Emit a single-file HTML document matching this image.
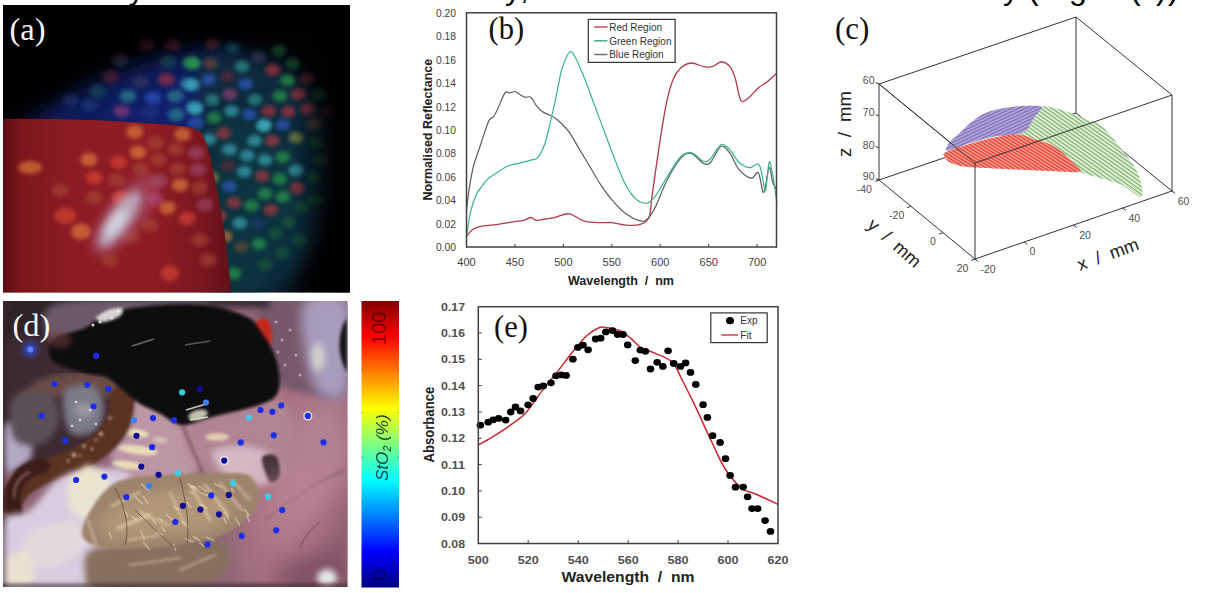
<!DOCTYPE html>
<html><head><meta charset="utf-8">
<style>
html,body{margin:0;padding:0;background:#fff;width:1207px;height:593px;overflow:hidden}
svg{display:block}
text{font-family:"Liberation Sans",sans-serif}
text.serif{font-family:"Liberation Serif",serif}
</style></head><body>
<svg width="1207" height="593" viewBox="0 0 1207 593">
<defs>
<linearGradient id="jet" x1="0" y1="0" x2="0" y2="1">
<stop offset="0" stop-color="#800000"/>
<stop offset="0.125" stop-color="#ff0000"/>
<stop offset="0.375" stop-color="#ffff00"/>
<stop offset="0.625" stop-color="#00ffff"/>
<stop offset="0.875" stop-color="#0000ff"/>
<stop offset="1" stop-color="#000080"/>
</linearGradient>
</defs>

<defs>
<clipPath id="clipA"><rect x="3" y="5" width="347" height="287.5"/></clipPath>
<clipPath id="clipRed"><path d="M-5,119 C40,118 110,120 150,123.5 C175,125 192,126 201,131.9 C206,140 209,150 211,160 C214,175 217,190 220,205 C224,225 228,255 231,292 L231,300 L-5,300 Z"/></clipPath>
<filter id="blurA" x="-50%" y="-50%" width="200%" height="200%"><feGaussianBlur stdDeviation="2.1"/></filter>
<filter id="blurBig" x="-50%" y="-50%" width="200%" height="200%"><feGaussianBlur stdDeviation="18"/></filter>
<filter id="blurMed" x="-50%" y="-50%" width="200%" height="200%"><feGaussianBlur stdDeviation="10"/></filter>
<filter id="blurS" x="-50%" y="-50%" width="200%" height="200%"><feGaussianBlur stdDeviation="1"/></filter>
<filter id="blurSpec" x="-50%" y="-50%" width="200%" height="200%"><feGaussianBlur stdDeviation="4"/></filter>
<linearGradient id="aRed" x1="3" y1="0" x2="232" y2="0" gradientUnits="userSpaceOnUse">
<stop offset="0" stop-color="#5a0e14"/>
<stop offset="0.08" stop-color="#7c161c"/>
<stop offset="0.3" stop-color="#8c1c24"/>
<stop offset="0.65" stop-color="#8e1c24"/>
<stop offset="0.88" stop-color="#781620"/>
<stop offset="1" stop-color="#5e1018"/>
</linearGradient>
<linearGradient id="aRightDark" x1="0" y1="0" x2="1" y2="0">
<stop offset="0" stop-color="#000" stop-opacity="0"/>
<stop offset="0.6" stop-color="#000" stop-opacity="0.75"/>
<stop offset="1" stop-color="#000" stop-opacity="0.98"/>
</linearGradient>
</defs>
<g clip-path="url(#clipA)">
<rect x="3" y="5" width="347" height="287.5" fill="#030306"/>
<path d="M20,130 C60,95 120,70 170,55 C210,45 240,50 250,80 L245,135 L20,135 Z" fill="#101a5c" filter="url(#blurMed)"/>
<path d="M90,128 C130,100 170,85 205,80 C225,85 225,110 220,135 L90,135 Z" fill="#18247a" opacity="0.6" filter="url(#blurMed)"/>
<path d="M195,60 C240,40 290,60 320,100 C340,150 330,230 300,300 L215,300 L200,130 Z" fill="#0c2a3c" filter="url(#blurMed)"/>
<path d="M205,120 C240,110 280,130 300,160 C310,200 290,250 250,300 L220,300 Z" fill="#0e3440" opacity="0.9" filter="url(#blurMed)"/>
<ellipse cx="146.7" cy="44.1" rx="8.5" ry="6.5" fill="#702838" opacity="0.5" filter="url(#blurA)"/>
<ellipse cx="172.6" cy="45.0" rx="8.5" ry="6.5" fill="#702838" opacity="0.5" filter="url(#blurA)"/>
<ellipse cx="168.0" cy="61.7" rx="8.5" ry="6.5" fill="#1f5a60" opacity="0.5" filter="url(#blurA)"/>
<ellipse cx="190.3" cy="62.7" rx="8.5" ry="6.5" fill="#30b050" opacity="0.5" filter="url(#blurA)"/>
<ellipse cx="110.5" cy="76.6" rx="8.5" ry="6.5" fill="#702838" opacity="0.5" filter="url(#blurA)"/>
<ellipse cx="140.2" cy="82.2" rx="8.5" ry="6.5" fill="#404060" opacity="0.5" filter="url(#blurA)"/>
<ellipse cx="166.2" cy="79.4" rx="8.5" ry="6.5" fill="#d03840" opacity="0.5" filter="url(#blurA)"/>
<ellipse cx="188.4" cy="84.0" rx="8.5" ry="6.5" fill="#48c0d0" opacity="0.5" filter="url(#blurA)"/>
<ellipse cx="97.5" cy="91.4" rx="8.5" ry="6.5" fill="#1f5a60" opacity="0.5" filter="url(#blurA)"/>
<ellipse cx="128.1" cy="96.1" rx="8.5" ry="6.5" fill="#38a8a0" opacity="0.5" filter="url(#blurA)"/>
<ellipse cx="153.2" cy="97.9" rx="8.5" ry="6.5" fill="#3868e0" opacity="0.5" filter="url(#blurA)"/>
<ellipse cx="175.4" cy="96.1" rx="8.5" ry="6.5" fill="#38a8a0" opacity="0.5" filter="url(#blurA)"/>
<ellipse cx="194.0" cy="107.2" rx="8.5" ry="6.5" fill="#48c0d0" opacity="0.5" filter="url(#blurA)"/>
<ellipse cx="90.1" cy="105.3" rx="8.5" ry="6.5" fill="#203a80" opacity="0.5" filter="url(#blurA)"/>
<ellipse cx="121.6" cy="110.9" rx="8.5" ry="6.5" fill="#b04880" opacity="0.5" filter="url(#blurA)"/>
<ellipse cx="176.4" cy="114.6" rx="8.5" ry="6.5" fill="#38a8a0" opacity="0.5" filter="url(#blurA)"/>
<ellipse cx="195.8" cy="123.0" rx="8.5" ry="6.5" fill="#3868e0" opacity="0.5" filter="url(#blurA)"/>
<ellipse cx="150.0" cy="112.0" rx="8.5" ry="6.5" fill="#203a80" opacity="0.5" filter="url(#blurA)"/>
<ellipse cx="70.0" cy="100.0" rx="8.5" ry="6.5" fill="#203a80" opacity="0.5" filter="url(#blurA)"/>
<ellipse cx="120.0" cy="60.0" rx="8.5" ry="6.5" fill="#404060" opacity="0.5" filter="url(#blurA)"/>
<ellipse cx="212.3" cy="44.1" rx="7.5" ry="6" fill="#702838" opacity="0.55" filter="url(#blurA)"/>
<ellipse cx="232.7" cy="47.8" rx="7.5" ry="6" fill="#1f5a60" opacity="0.55" filter="url(#blurA)"/>
<ellipse cx="279.0" cy="50.6" rx="7.5" ry="6" fill="#1f6038" opacity="0.55" filter="url(#blurA)"/>
<ellipse cx="193.7" cy="63.6" rx="7.5" ry="6" fill="#30b050" opacity="0.55" filter="url(#blurA)"/>
<ellipse cx="210.4" cy="63.6" rx="7.5" ry="6" fill="#805038" opacity="0.55" filter="url(#blurA)"/>
<ellipse cx="242.0" cy="66.4" rx="7.5" ry="6" fill="#38a8a0" opacity="0.55" filter="url(#blurA)"/>
<ellipse cx="258.6" cy="57.1" rx="7.5" ry="6" fill="#404060" opacity="0.55" filter="url(#blurA)"/>
<ellipse cx="272.6" cy="70.1" rx="7.5" ry="6" fill="#d03840" opacity="0.55" filter="url(#blurA)"/>
<ellipse cx="293.0" cy="63.6" rx="7.5" ry="6" fill="#1f6038" opacity="0.55" filter="url(#blurA)"/>
<ellipse cx="208.6" cy="79.4" rx="7.5" ry="6" fill="#3868e0" opacity="0.55" filter="url(#blurA)"/>
<ellipse cx="227.1" cy="76.6" rx="7.5" ry="6" fill="#702838" opacity="0.55" filter="url(#blurA)"/>
<ellipse cx="245.7" cy="84.0" rx="7.5" ry="6" fill="#3868e0" opacity="0.55" filter="url(#blurA)"/>
<ellipse cx="287.4" cy="80.3" rx="7.5" ry="6" fill="#30b050" opacity="0.55" filter="url(#blurA)"/>
<ellipse cx="306.9" cy="78.4" rx="7.5" ry="6" fill="#702838" opacity="0.55" filter="url(#blurA)"/>
<ellipse cx="192.8" cy="84.9" rx="7.5" ry="6" fill="#48c0d0" opacity="0.55" filter="url(#blurA)"/>
<ellipse cx="212.3" cy="99.8" rx="7.5" ry="6" fill="#38a8a0" opacity="0.55" filter="url(#blurA)"/>
<ellipse cx="229.9" cy="94.2" rx="7.5" ry="6" fill="#b04880" opacity="0.55" filter="url(#blurA)"/>
<ellipse cx="254.9" cy="99.8" rx="7.5" ry="6" fill="#38a8a0" opacity="0.55" filter="url(#blurA)"/>
<ellipse cx="280.0" cy="96.1" rx="7.5" ry="6" fill="#30b050" opacity="0.55" filter="url(#blurA)"/>
<ellipse cx="298.5" cy="94.2" rx="7.5" ry="6" fill="#d03840" opacity="0.55" filter="url(#blurA)"/>
<ellipse cx="319.9" cy="94.2" rx="7.5" ry="6" fill="#1f6038" opacity="0.55" filter="url(#blurA)"/>
<ellipse cx="195.6" cy="109.0" rx="7.5" ry="6" fill="#48c0d0" opacity="0.55" filter="url(#blurA)"/>
<ellipse cx="214.1" cy="117.4" rx="7.5" ry="6" fill="#30b050" opacity="0.55" filter="url(#blurA)"/>
<ellipse cx="231.7" cy="110.9" rx="7.5" ry="6" fill="#48c0d0" opacity="0.55" filter="url(#blurA)"/>
<ellipse cx="249.4" cy="114.6" rx="7.5" ry="6" fill="#3868e0" opacity="0.55" filter="url(#blurA)"/>
<ellipse cx="268.8" cy="110.9" rx="7.5" ry="6" fill="#d03840" opacity="0.55" filter="url(#blurA)"/>
<ellipse cx="288.3" cy="111.8" rx="7.5" ry="6" fill="#d03840" opacity="0.55" filter="url(#blurA)"/>
<ellipse cx="307.8" cy="109.0" rx="7.5" ry="6" fill="#d03840" opacity="0.55" filter="url(#blurA)"/>
<ellipse cx="328.2" cy="111.8" rx="7.5" ry="6" fill="#702838" opacity="0.55" filter="url(#blurA)"/>
<ellipse cx="264.2" cy="124.8" rx="7.5" ry="6" fill="#48c0d0" opacity="0.55" filter="url(#blurA)"/>
<ellipse cx="282.8" cy="124.8" rx="7.5" ry="6" fill="#3868e0" opacity="0.55" filter="url(#blurA)"/>
<ellipse cx="314.3" cy="123.9" rx="7.5" ry="6" fill="#805038" opacity="0.55" filter="url(#blurA)"/>
<ellipse cx="223.6" cy="133.3" rx="7.5" ry="6" fill="#d03840" opacity="0.55" filter="url(#blurA)"/>
<ellipse cx="263.5" cy="125.9" rx="7.5" ry="6" fill="#48c0d0" opacity="0.55" filter="url(#blurA)"/>
<ellipse cx="208.9" cy="139.2" rx="7.5" ry="6" fill="#48c0d0" opacity="0.55" filter="url(#blurA)"/>
<ellipse cx="254.6" cy="140.7" rx="7.5" ry="6" fill="#48c0d0" opacity="0.55" filter="url(#blurA)"/>
<ellipse cx="272.3" cy="140.7" rx="7.5" ry="6" fill="#d03840" opacity="0.55" filter="url(#blurA)"/>
<ellipse cx="296.0" cy="137.7" rx="7.5" ry="6" fill="#a0a040" opacity="0.55" filter="url(#blurA)"/>
<ellipse cx="316.6" cy="142.1" rx="7.5" ry="6" fill="#1f6038" opacity="0.55" filter="url(#blurA)"/>
<ellipse cx="229.5" cy="149.5" rx="7.5" ry="6" fill="#48c0d0" opacity="0.55" filter="url(#blurA)"/>
<ellipse cx="247.2" cy="155.4" rx="7.5" ry="6" fill="#48c0d0" opacity="0.55" filter="url(#blurA)"/>
<ellipse cx="265.0" cy="159.9" rx="7.5" ry="6" fill="#48c0d0" opacity="0.55" filter="url(#blurA)"/>
<ellipse cx="282.7" cy="156.9" rx="7.5" ry="6" fill="#30b050" opacity="0.55" filter="url(#blurA)"/>
<ellipse cx="321.0" cy="159.9" rx="7.5" ry="6" fill="#1f6038" opacity="0.55" filter="url(#blurA)"/>
<ellipse cx="228.0" cy="165.8" rx="7.5" ry="6" fill="#702838" opacity="0.55" filter="url(#blurA)"/>
<ellipse cx="244.3" cy="171.7" rx="7.5" ry="6" fill="#48c0d0" opacity="0.55" filter="url(#blurA)"/>
<ellipse cx="262.0" cy="176.1" rx="7.5" ry="6" fill="#d03840" opacity="0.55" filter="url(#blurA)"/>
<ellipse cx="279.7" cy="179.0" rx="7.5" ry="6" fill="#30b050" opacity="0.55" filter="url(#blurA)"/>
<ellipse cx="296.0" cy="170.2" rx="7.5" ry="6" fill="#48c0d0" opacity="0.55" filter="url(#blurA)"/>
<ellipse cx="313.7" cy="177.6" rx="7.5" ry="6" fill="#1f6038" opacity="0.55" filter="url(#blurA)"/>
<ellipse cx="211.8" cy="177.6" rx="7.5" ry="6" fill="#a0a040" opacity="0.55" filter="url(#blurA)"/>
<ellipse cx="229.5" cy="186.4" rx="7.5" ry="6" fill="#3868e0" opacity="0.55" filter="url(#blurA)"/>
<ellipse cx="265.0" cy="193.8" rx="7.5" ry="6" fill="#30b050" opacity="0.55" filter="url(#blurA)"/>
<ellipse cx="282.7" cy="196.8" rx="7.5" ry="6" fill="#30b050" opacity="0.55" filter="url(#blurA)"/>
<ellipse cx="297.4" cy="187.9" rx="7.5" ry="6" fill="#d03840" opacity="0.55" filter="url(#blurA)"/>
<ellipse cx="234.0" cy="202.7" rx="7.5" ry="6" fill="#d03840" opacity="0.55" filter="url(#blurA)"/>
<ellipse cx="251.7" cy="205.6" rx="7.5" ry="6" fill="#30b050" opacity="0.55" filter="url(#blurA)"/>
<ellipse cx="270.9" cy="210.0" rx="7.5" ry="6" fill="#d03840" opacity="0.55" filter="url(#blurA)"/>
<ellipse cx="301.9" cy="207.1" rx="7.5" ry="6" fill="#1f6038" opacity="0.55" filter="url(#blurA)"/>
<ellipse cx="219.2" cy="216.0" rx="7.5" ry="6" fill="#e04838" opacity="0.55" filter="url(#blurA)"/>
<ellipse cx="239.9" cy="223.3" rx="7.5" ry="6" fill="#48c0d0" opacity="0.55" filter="url(#blurA)"/>
<ellipse cx="257.6" cy="223.3" rx="7.5" ry="6" fill="#203a80" opacity="0.55" filter="url(#blurA)"/>
<ellipse cx="288.6" cy="221.9" rx="7.5" ry="6" fill="#1f6038" opacity="0.55" filter="url(#blurA)"/>
<ellipse cx="225.1" cy="236.6" rx="7.5" ry="6" fill="#e88840" opacity="0.55" filter="url(#blurA)"/>
<ellipse cx="241.3" cy="247.0" rx="7.5" ry="6" fill="#805038" opacity="0.55" filter="url(#blurA)"/>
<ellipse cx="259.0" cy="244.0" rx="7.5" ry="6" fill="#30b050" opacity="0.55" filter="url(#blurA)"/>
<ellipse cx="275.3" cy="233.7" rx="7.5" ry="6" fill="#1f6038" opacity="0.55" filter="url(#blurA)"/>
<ellipse cx="282.7" cy="252.9" rx="7.5" ry="6" fill="#1f6038" opacity="0.55" filter="url(#blurA)"/>
<ellipse cx="265.0" cy="264.7" rx="7.5" ry="6" fill="#1f6038" opacity="0.55" filter="url(#blurA)"/>
<ellipse cx="234.0" cy="273.5" rx="7.5" ry="6" fill="#30b050" opacity="0.55" filter="url(#blurA)"/>
<ellipse cx="300.0" cy="240.0" rx="7.5" ry="6" fill="#1f6038" opacity="0.55" filter="url(#blurA)"/>
<ellipse cx="315.0" cy="200.0" rx="7.5" ry="6" fill="#1f6038" opacity="0.55" filter="url(#blurA)"/>
<rect x="292" y="0" width="63" height="300" fill="url(#aRightDark)"/>
<path d="M-20,-20 L360,-20 L360,30 L200,35 L120,50 L40,95 L-20,120 Z" fill="#030306" opacity="0.9" filter="url(#blurMed)"/>
<path d="M310,260 L360,210 L360,300 L275,300 Z" fill="#020204" opacity="0.8" filter="url(#blurMed)"/>
<g clip-path="url(#clipRed)">
<rect x="0" y="110" width="240" height="190" fill="url(#aRed)"/>
<ellipse cx="134.6" cy="131.9" rx="8.5" ry="6.8" fill="#e88840" opacity="0.6" filter="url(#blurA)"/>
<ellipse cx="182.6" cy="134.5" rx="8.5" ry="6.8" fill="#e88840" opacity="0.6" filter="url(#blurA)"/>
<ellipse cx="155.6" cy="142.9" rx="8.5" ry="6.8" fill="#a84838" opacity="0.6" filter="url(#blurA)"/>
<ellipse cx="137.9" cy="152.2" rx="8.5" ry="6.8" fill="#e88840" opacity="0.6" filter="url(#blurA)"/>
<ellipse cx="175.9" cy="148.8" rx="8.5" ry="6.8" fill="#a84838" opacity="0.6" filter="url(#blurA)"/>
<ellipse cx="196.1" cy="153.0" rx="8.5" ry="6.8" fill="#a05070" opacity="0.6" filter="url(#blurA)"/>
<ellipse cx="118.5" cy="162.3" rx="8.5" ry="6.8" fill="#e04838" opacity="0.6" filter="url(#blurA)"/>
<ellipse cx="158.2" cy="159.7" rx="8.5" ry="6.8" fill="#a84838" opacity="0.6" filter="url(#blurA)"/>
<ellipse cx="140.5" cy="169.0" rx="8.5" ry="6.8" fill="#a84838" opacity="0.6" filter="url(#blurA)"/>
<ellipse cx="177.6" cy="169.0" rx="8.5" ry="6.8" fill="#a84838" opacity="0.6" filter="url(#blurA)"/>
<ellipse cx="197.8" cy="169.9" rx="8.5" ry="6.8" fill="#a05070" opacity="0.6" filter="url(#blurA)"/>
<ellipse cx="116.9" cy="180.0" rx="8.5" ry="6.8" fill="#a84838" opacity="0.6" filter="url(#blurA)"/>
<ellipse cx="159.9" cy="180.8" rx="8.5" ry="6.8" fill="#a05070" opacity="0.6" filter="url(#blurA)"/>
<ellipse cx="180.1" cy="185.0" rx="8.5" ry="6.8" fill="#e88840" opacity="0.6" filter="url(#blurA)"/>
<ellipse cx="199.5" cy="187.6" rx="8.5" ry="6.8" fill="#a84838" opacity="0.6" filter="url(#blurA)"/>
<ellipse cx="121.1" cy="197.7" rx="8.5" ry="6.8" fill="#e04838" opacity="0.6" filter="url(#blurA)"/>
<ellipse cx="154.8" cy="199.4" rx="8.5" ry="6.8" fill="#b04880" opacity="0.6" filter="url(#blurA)"/>
<ellipse cx="167.5" cy="207.8" rx="8.5" ry="6.8" fill="#e88840" opacity="0.6" filter="url(#blurA)"/>
<ellipse cx="30.0" cy="167.5" rx="12" ry="6.5" fill="#e88840" opacity="0.6" filter="url(#blurA)"/>
<ellipse cx="88.9" cy="159.6" rx="8.5" ry="6.8" fill="#e88840" opacity="0.6" filter="url(#blurA)"/>
<ellipse cx="94.1" cy="177.9" rx="8.5" ry="6.8" fill="#e04838" opacity="0.6" filter="url(#blurA)"/>
<ellipse cx="65.4" cy="215.8" rx="11" ry="8.5" fill="#e04838" opacity="0.6" filter="url(#blurA)"/>
<ellipse cx="120.3" cy="198.8" rx="8.5" ry="6.8" fill="#e04838" opacity="0.6" filter="url(#blurA)"/>
<ellipse cx="186.9" cy="218.4" rx="8.5" ry="6.8" fill="#e04838" opacity="0.6" filter="url(#blurA)"/>
<ellipse cx="81.0" cy="231.5" rx="10" ry="8" fill="#e88840" opacity="0.6" filter="url(#blurA)"/>
<ellipse cx="130.7" cy="236.7" rx="8.5" ry="6.8" fill="#a84838" opacity="0.6" filter="url(#blurA)"/>
<ellipse cx="170.0" cy="273.3" rx="9" ry="8" fill="#e04838" opacity="0.6" filter="url(#blurA)"/>
<ellipse cx="94.0" cy="197.5" rx="8.5" ry="6.8" fill="#a84838" opacity="0.6" filter="url(#blurA)"/>
<ellipse cx="150.0" cy="225.0" rx="8.5" ry="6.8" fill="#a84838" opacity="0.6" filter="url(#blurA)"/>
<ellipse cx="200.0" cy="240.0" rx="8.5" ry="6.8" fill="#a84838" opacity="0.6" filter="url(#blurA)"/>
<ellipse cx="60.0" cy="190.0" rx="8.5" ry="6.8" fill="#a84838" opacity="0.6" filter="url(#blurA)"/>
<ellipse cx="110.0" cy="260.0" rx="8.5" ry="6.8" fill="#a84838" opacity="0.6" filter="url(#blurA)"/>
<ellipse cx="205.0" cy="205.0" rx="8.5" ry="6.8" fill="#a05070" opacity="0.6" filter="url(#blurA)"/>
<ellipse cx="208.0" cy="260.0" rx="8.5" ry="6.8" fill="#a84838" opacity="0.6" filter="url(#blurA)"/>
<ellipse cx="125" cy="215" rx="50" ry="20" fill="#b05878" opacity="0.5" transform="rotate(-52 125 215)" filter="url(#blurSpec)"/>
<ellipse cx="120" cy="219" rx="34" ry="11" fill="#c8d4ec" opacity="0.7" transform="rotate(-55 120 219)" filter="url(#blurSpec)"/>
<ellipse cx="116" cy="223" rx="16" ry="6" fill="#e8f8f0" opacity="0.6" transform="rotate(-55 116 223)" filter="url(#blurSpec)"/>
</g>
</g>
<text x="9.5" y="39.5" font-size="32.5" class="serif" fill="#f4f4f4">(a)</text>
<defs>
<clipPath id="clipD"><rect x="3" y="301" width="344.5" height="286"/></clipPath>
<filter id="dB1" x="-50%" y="-50%" width="200%" height="200%"><feGaussianBlur stdDeviation="1.5"/></filter>
<filter id="dB3" x="-50%" y="-50%" width="200%" height="200%"><feGaussianBlur stdDeviation="3"/></filter>
<filter id="dB6" x="-50%" y="-50%" width="200%" height="200%"><feGaussianBlur stdDeviation="6"/></filter>
<filter id="dB12" x="-50%" y="-50%" width="200%" height="200%"><feGaussianBlur stdDeviation="12"/></filter>
<filter id="dDot" x="-50%" y="-50%" width="200%" height="200%"><feGaussianBlur stdDeviation="0.7"/></filter>
</defs>
<g clip-path="url(#clipD)">
<rect x="3" y="301" width="344.5" height="286" fill="#8e6676"/>
<path d="M250.0,385.0 C267.8,370.0 330.8,346.3 347.0,380.0 C363.2,413.7 363.2,552.5 347.0,587.0 C330.8,621.5 267.8,606.5 250.0,587.0 C232.2,567.5 240.0,503.7 240.0,470.0 C240.0,436.3 232.2,400.0 250.0,385.0Z" fill="#a87282" filter="url(#dB12)"/>
<path d="M290.0,420.0 C300.0,410.0 330.8,396.7 340.0,410.0 C349.2,423.3 351.7,481.7 345.0,500.0 C338.3,518.3 310.8,525.0 300.0,520.0 C289.2,515.0 281.7,486.7 280.0,470.0 C278.3,453.3 280.0,430.0 290.0,420.0Z" fill="#b88898" opacity="0.7" filter="url(#dB12)"/>
<path d="M300,540 L350,480 L350,590 L270,590 Z" fill="#7c4c60" filter="url(#dB12)"/>
<path d="M265,520 C290,500 320,480 345,470" stroke="#6a3a4a" stroke-width="2" fill="none" opacity="0.5" filter="url(#dB1)"/>
<path d="M262.0,301.0 C275.2,294.5 332.8,285.8 347.0,301.0 C361.2,316.2 354.8,376.8 347.0,392.0 C339.2,407.2 312.0,394.0 300.0,392.0 C288.0,390.0 280.3,388.7 275.0,380.0 C269.7,371.3 270.2,353.2 268.0,340.0 C265.8,326.8 248.8,307.5 262.0,301.0Z" fill="#76586a" filter="url(#dB3)"/>
<path d="M305.0,301.0 C312.0,292.8 340.0,286.2 347.0,301.0 C354.0,315.8 351.8,374.8 347.0,390.0 C342.2,405.2 325.0,398.7 318.0,392.0 C311.0,385.3 307.2,365.2 305.0,350.0 C302.8,334.8 298.0,309.2 305.0,301.0Z" fill="#a89cbc" filter="url(#dB6)"/>
<ellipse cx="318" cy="357" rx="7" ry="14" fill="#d8d8d0" opacity="0.85" filter="url(#dB3)"/>
<path d="M347,318 C338,330 336,355 347,372" fill="#181418" filter="url(#dB1)"/>
<circle cx="276" cy="322" r="1.5" fill="#e0d0e0" opacity="0.6" filter="url(#dDot)"/>
<circle cx="282" cy="340" r="1.5" fill="#e0d0e0" opacity="0.6" filter="url(#dDot)"/>
<circle cx="290" cy="330" r="1.5" fill="#e0d0e0" opacity="0.6" filter="url(#dDot)"/>
<circle cx="296" cy="355" r="1.5" fill="#e0d0e0" opacity="0.6" filter="url(#dDot)"/>
<circle cx="285" cy="365" r="1.5" fill="#e0d0e0" opacity="0.6" filter="url(#dDot)"/>
<circle cx="300" cy="375" r="1.5" fill="#e0d0e0" opacity="0.6" filter="url(#dDot)"/>
<circle cx="278" cy="352" r="1.5" fill="#e0d0e0" opacity="0.6" filter="url(#dDot)"/>
<rect x="0" y="296" width="270" height="12" fill="#3e2e38" filter="url(#dB3)"/>
<path d="M3.0,301.0 C15.8,289.5 68.8,295.3 80.0,301.0 C91.2,306.7 76.7,324.3 70.0,335.0 C63.3,345.7 51.2,359.2 40.0,365.0 C28.8,370.8 9.2,380.7 3.0,370.0 C-3.2,359.3 -9.8,312.5 3.0,301.0Z" fill="#2e2428" filter="url(#dB6)"/>
<path d="M60.0,303.0 C81.7,298.2 150.0,300.5 175.0,301.0 C200.0,301.5 212.5,302.5 210.0,306.0 C207.5,309.5 178.3,316.3 160.0,322.0 C141.7,327.7 116.7,335.7 100.0,340.0 C83.3,344.3 69.2,349.7 60.0,348.0 C50.8,346.3 45.0,337.5 45.0,330.0 C45.0,322.5 38.3,307.8 60.0,303.0Z" fill="#6c5a6a" filter="url(#dB3)"/>
<path d="M256.0,322.0 C258.0,319.0 265.3,317.0 268.0,320.0 C270.7,323.0 272.5,335.5 272.0,340.0 C271.5,344.5 267.7,347.3 265.0,347.0 C262.3,346.7 257.5,342.2 256.0,338.0 C254.5,333.8 254.0,325.0 256.0,322.0Z" fill="#c42a1c" filter="url(#dB1)"/>
<path d="M128.0,405.0 C134.3,396.3 140.8,394.5 150.0,398.0 C159.2,401.5 174.7,416.5 183.0,426.0 C191.3,435.5 198.8,446.3 200.0,455.0 C201.2,463.7 198.3,473.5 190.0,478.0 C181.7,482.5 162.0,482.0 150.0,482.0 C138.0,482.0 124.3,483.3 118.0,478.0 C111.7,472.7 110.3,462.2 112.0,450.0 C113.7,437.8 121.7,413.7 128.0,405.0Z" fill="#bc96a4" filter="url(#dB3)"/>
<ellipse cx="136" cy="433" rx="13" ry="4" fill="#f4ecc0" opacity="0.85" transform="rotate(8 136 433)" filter="url(#dB1)"/>
<ellipse cx="138" cy="450" rx="20" ry="4.5" fill="#f4ecc0" opacity="0.8" transform="rotate(8 138 450)" filter="url(#dB1)"/>
<ellipse cx="128" cy="465" rx="16" ry="4" fill="#f4ecc0" opacity="0.8" transform="rotate(8 128 465)" filter="url(#dB1)"/>
<ellipse cx="160" cy="440" rx="8" ry="3" fill="#f4ecc0" opacity="0.5" transform="rotate(8 160 440)" filter="url(#dB1)"/>
<path d="M183.0,426.0 C188.0,416.3 213.8,416.3 230.0,412.0 C246.2,407.7 269.7,395.3 280.0,400.0 C290.3,404.7 292.0,426.7 292.0,440.0 C292.0,453.3 290.3,472.5 280.0,480.0 C269.7,487.5 243.3,486.7 230.0,485.0 C216.7,483.3 207.8,479.8 200.0,470.0 C192.2,460.2 178.0,435.7 183.0,426.0Z" fill="#b08494" filter="url(#dB3)"/>
<ellipse cx="217" cy="437" rx="12" ry="4" fill="#ecdcb8" opacity="0.8" filter="url(#dB1)"/>
<path d="M183,426 C190,445 200,465 206,480" stroke="#6a3c4c" stroke-width="2.5" fill="none" opacity="0.6" filter="url(#dB1)"/>
<path d="M3.0,345.0 C12.5,325.0 39.7,337.5 60.0,342.0 C80.3,346.5 113.0,362.3 125.0,372.0 C137.0,381.7 132.8,388.7 132.0,400.0 C131.2,411.3 132.0,429.7 120.0,440.0 C108.0,450.3 79.5,458.3 60.0,462.0 C40.5,465.7 12.5,481.5 3.0,462.0 C-6.5,442.5 -6.5,365.0 3.0,345.0Z" fill="#3c2c30" filter="url(#dB3)"/>
<path d="M3.0,425.0 C6.7,418.3 20.2,423.0 25.0,428.0 C29.8,433.0 33.7,448.0 32.0,455.0 C30.3,462.0 19.8,467.8 15.0,470.0 C10.2,472.2 5.0,475.5 3.0,468.0 C1.0,460.5 -0.7,431.7 3.0,425.0Z" fill="#b4aac4" filter="url(#dB3)"/>
<path d="M30,400 C50,382 85,376 125,390" stroke="#6a4c44" stroke-width="22" fill="none" stroke-linecap="round" filter="url(#dB3)"/>
<path d="M64.0,392.0 C67.7,384.3 85.3,383.8 92.0,386.0 C98.7,388.2 103.3,397.7 104.0,405.0 C104.7,412.3 101.7,425.5 96.0,430.0 C90.3,434.5 75.3,438.3 70.0,432.0 C64.7,425.7 60.3,399.7 64.0,392.0Z" fill="#7c7a88" filter="url(#dB3)"/>
<path d="M12.0,400.0 C17.0,392.0 37.0,389.5 45.0,392.0 C53.0,394.5 60.0,406.7 60.0,415.0 C60.0,423.3 52.5,437.8 45.0,442.0 C37.5,446.2 20.5,447.0 15.0,440.0 C9.5,433.0 7.0,408.0 12.0,400.0Z" fill="#5a5058" filter="url(#dB3)"/>
<ellipse cx="84" cy="410" rx="10" ry="7" fill="#a8a4b4" opacity="0.7" filter="url(#dB3)"/>
<circle cx="76" cy="402" r="1.3" fill="#f0f0f0" opacity="0.8" filter="url(#dDot)"/>
<circle cx="80" cy="420" r="1.3" fill="#f0f0f0" opacity="0.8" filter="url(#dDot)"/>
<circle cx="90" cy="410" r="1.3" fill="#f0f0f0" opacity="0.8" filter="url(#dDot)"/>
<circle cx="72" cy="426" r="1.3" fill="#f0f0f0" opacity="0.8" filter="url(#dDot)"/>
<circle cx="96" cy="424" r="1.3" fill="#f0f0f0" opacity="0.8" filter="url(#dDot)"/>
<path d="M122,398 C122,435 95,455 55,468 C30,476 16,488 10,502" stroke="#5a3024" stroke-width="24" fill="none" stroke-linecap="round" filter="url(#dB1)"/>
<circle cx="74" cy="455" r="2.2" fill="#f0e0d0" opacity="0.75" filter="url(#dB1)"/>
<circle cx="84" cy="446" r="1.8" fill="#f0e0d0" opacity="0.75" filter="url(#dB1)"/>
<circle cx="92" cy="449" r="1.5" fill="#f0e0d0" opacity="0.75" filter="url(#dB1)"/>
<circle cx="101" cy="434" r="2" fill="#f0e0d0" opacity="0.75" filter="url(#dB1)"/>
<circle cx="68" cy="461" r="1.4" fill="#f0e0d0" opacity="0.75" filter="url(#dB1)"/>
<circle cx="110" cy="418" r="1.6" fill="#f0e0d0" opacity="0.75" filter="url(#dB1)"/>
<circle cx="80" cy="456" r="1.2" fill="#f0e0d0" opacity="0.75" filter="url(#dB1)"/>
<circle cx="96" cy="440" r="1.3" fill="#f0e0d0" opacity="0.75" filter="url(#dB1)"/>
<path d="M16,515 C8,492 16,470 42,466" stroke="#3a1e16" stroke-width="15" fill="none" stroke-linecap="round" filter="url(#dB1)"/>
<path d="M14,498 C14,484 20,476 30,472" stroke="#c0a090" stroke-width="2" fill="none" opacity="0.6" filter="url(#dB1)"/>
<path d="M60.0,478.0 C71.7,471.0 88.0,467.7 100.0,468.0 C112.0,468.3 130.0,469.7 132.0,480.0 C134.0,490.3 117.3,512.2 112.0,530.0 C106.7,547.8 118.2,577.5 100.0,587.0 C81.8,596.5 19.2,597.8 3.0,587.0 C-13.2,576.2 -1.5,534.8 3.0,522.0 C7.5,509.2 20.5,517.3 30.0,510.0 C39.5,502.7 48.3,485.0 60.0,478.0Z" fill="#d8cce0" filter="url(#dB3)"/>
<path d="M70.0,478.0 C75.0,471.3 95.0,469.3 102.0,472.0 C109.0,474.7 113.0,486.3 112.0,494.0 C111.0,501.7 102.7,515.0 96.0,518.0 C89.3,521.0 76.3,518.7 72.0,512.0 C67.7,505.3 65.0,484.7 70.0,478.0Z" fill="#f0e8d0" opacity="0.85" filter="url(#dB3)"/>
<path d="M30.0,532.0 C38.2,525.7 65.7,519.8 75.0,522.0 C84.3,524.2 89.2,537.7 86.0,545.0 C82.8,552.3 66.0,563.5 56.0,566.0 C46.0,568.5 30.3,565.7 26.0,560.0 C21.7,554.3 21.8,538.3 30.0,532.0Z" fill="#e6dcdc" opacity="0.8" filter="url(#dB3)"/>
<path d="M5.0,560.0 C8.0,554.2 23.2,548.7 28.0,552.0 C32.8,555.3 37.0,574.2 34.0,580.0 C31.0,585.8 14.8,590.3 10.0,587.0 C5.2,583.7 2.0,565.8 5.0,560.0Z" fill="#eee6cc" opacity="0.8" filter="url(#dB3)"/>
<path d="M53.0,340.0 C58.2,334.6 76.0,332.2 84.0,328.5 C92.0,324.8 93.7,320.8 101.0,317.5 C108.3,314.2 116.2,311.0 128.0,308.8 C139.8,306.6 157.5,304.8 172.0,304.4 C186.5,304.0 202.3,304.4 215.0,306.6 C227.7,308.8 240.7,313.9 248.0,317.5 C255.3,321.1 254.9,323.0 259.0,328.5 C263.1,334.0 269.2,343.1 272.5,350.4 C275.8,357.7 278.2,365.1 279.0,372.4 C279.8,379.7 280.3,388.6 277.0,394.0 C273.7,399.4 269.3,401.3 259.0,405.0 C248.7,408.7 227.8,412.7 215.0,416.0 C202.2,419.3 191.6,425.3 182.5,425.0 C173.4,424.7 167.9,417.7 160.6,414.0 C153.3,410.3 145.0,407.0 138.7,403.0 C132.4,399.0 128.4,394.3 123.0,390.0 C117.5,385.7 112.5,379.9 106.0,377.0 C99.5,374.1 92.8,375.1 84.0,372.4 C75.2,369.7 58.2,366.4 53.0,361.0 C47.8,355.6 47.8,345.4 53.0,340.0Z" fill="#0e080c" filter="url(#dB1)"/>
<path d="M132,346 L154,339" stroke="#b8b0b8" stroke-width="1.6" opacity="0.55" filter="url(#dDot)"/>
<ellipse cx="198" cy="415" rx="10" ry="5" fill="#f0f0d8" opacity="0.8" transform="rotate(-15 198 415)" filter="url(#dB1)"/>
<path d="M186,410 L206,404" stroke="#f4f4e0" stroke-width="1.6" opacity="0.8" filter="url(#dDot)"/>
<path d="M190,420 L208,417" stroke="#f4f4e0" stroke-width="1.6" opacity="0.8" filter="url(#dDot)"/>
<path d="M185,345 L210,341" stroke="#a8a0a8" stroke-width="1.5" opacity="0.5" filter="url(#dDot)"/>
<path d="M96.0,318.0 C96.7,316.0 103.7,311.7 108.0,310.0 C112.3,308.3 120.0,307.0 122.0,308.0 C124.0,309.0 123.0,313.7 120.0,316.0 C117.0,318.3 108.0,321.7 104.0,322.0 C100.0,322.3 95.3,320.0 96.0,318.0Z" fill="#ece6e8" opacity="0.9" filter="url(#dB1)"/>
<circle cx="100" cy="322" r="1.6" fill="#f8f0f0" opacity="0.8" filter="url(#dDot)"/>
<circle cx="112" cy="318" r="1.6" fill="#f8f0f0" opacity="0.8" filter="url(#dDot)"/>
<circle cx="118" cy="311" r="1.6" fill="#f8f0f0" opacity="0.8" filter="url(#dDot)"/>
<circle cx="93" cy="325" r="1.6" fill="#f8f0f0" opacity="0.8" filter="url(#dDot)"/>
<ellipse cx="60" cy="340" rx="12" ry="8" fill="#6a3a38" opacity="0.6" filter="url(#dB3)"/>
<path d="M212.0,452.0 C214.5,446.3 235.0,445.5 245.0,446.0 C255.0,446.5 266.2,450.2 272.0,455.0 C277.8,459.8 281.7,470.0 280.0,475.0 C278.3,480.0 270.3,484.2 262.0,485.0 C253.7,485.8 238.3,485.5 230.0,480.0 C221.7,474.5 209.5,457.7 212.0,452.0Z" fill="#d4b8c4" filter="url(#dB3)"/>
<path d="M262.0,458.0 C263.0,453.7 273.0,453.2 276.0,456.0 C279.0,458.8 281.0,470.7 280.0,475.0 C279.0,479.3 273.0,484.8 270.0,482.0 C267.0,479.2 261.0,462.3 262.0,458.0Z" fill="#2a1a20" opacity="0.85" filter="url(#dB1)"/>
<path d="M270.0,480.0 C281.3,471.7 318.3,460.0 330.0,470.0 C341.7,480.0 346.7,525.0 340.0,540.0 C333.3,555.0 303.0,563.3 290.0,560.0 C277.0,556.7 265.3,533.3 262.0,520.0 C258.7,506.7 258.7,488.3 270.0,480.0Z" fill="#bc8494" opacity="0.6" filter="url(#dB12)"/>
<path d="M300,548 C305,535 312,528 320,522" stroke="#5a3040" stroke-width="1" fill="none" opacity="0.6"/>
<path d="M95.0,548.0 C107.5,543.8 140.5,546.3 160.0,545.0 C179.5,543.7 200.3,537.5 212.0,540.0 C223.7,542.5 232.0,552.5 230.0,560.0 C228.0,567.5 221.7,580.0 200.0,585.0 C178.3,590.0 119.2,592.5 100.0,590.0 C80.8,587.5 85.8,577.0 85.0,570.0 C84.2,563.0 82.5,552.2 95.0,548.0Z" fill="#86705e" filter="url(#dB3)"/>
<path d="M82.0,530.0 C83.8,519.3 98.7,493.2 113.0,484.0 C127.3,474.8 149.8,476.8 168.0,475.0 C186.2,473.2 208.2,472.7 222.0,473.0 C235.8,473.3 245.0,471.8 251.0,477.0 C257.0,482.2 261.7,494.8 258.0,504.0 C254.3,513.2 240.3,525.5 229.0,532.0 C217.7,538.5 203.8,540.3 190.0,543.0 C176.2,545.7 160.7,547.2 146.0,548.0 C131.3,548.8 112.7,551.0 102.0,548.0 C91.3,545.0 80.2,540.7 82.0,530.0Z" fill="#9e846c" filter="url(#dB1)"/>
<path d="M100.0,520.0 C104.2,512.8 125.0,500.0 140.0,495.0 C155.0,490.0 175.0,489.2 190.0,490.0 C205.0,490.8 225.0,494.2 230.0,500.0 C235.0,505.8 230.0,519.2 220.0,525.0 C210.0,530.8 187.5,532.8 170.0,535.0 C152.5,537.2 126.7,540.5 115.0,538.0 C103.3,535.5 95.8,527.2 100.0,520.0Z" fill="#b89c7c" opacity="0.75" filter="url(#dB6)"/>
<path d="M112,506 L140,492" stroke="#ecdcb4" stroke-width="2.5" opacity="0.7" stroke-linecap="round" filter="url(#dB1)"/>
<path d="M118,528 L150,515" stroke="#ecdcb4" stroke-width="3" opacity="0.7" stroke-linecap="round" filter="url(#dB1)"/>
<path d="M128,540 L160,535" stroke="#ecdcb4" stroke-width="2" opacity="0.6" stroke-linecap="round" filter="url(#dB1)"/>
<path d="M192,488 L210,520" stroke="#ecdcb4" stroke-width="2.5" opacity="0.7" stroke-linecap="round" filter="url(#dB1)"/>
<path d="M205,485 L228,515" stroke="#ecdcb4" stroke-width="2.5" opacity="0.7" stroke-linecap="round" filter="url(#dB1)"/>
<path d="M170,492 L185,525" stroke="#ecdcb4" stroke-width="2" opacity="0.6" stroke-linecap="round" filter="url(#dB1)"/>
<path d="M220,483 L242,510" stroke="#ecdcb4" stroke-width="2" opacity="0.7" stroke-linecap="round" filter="url(#dB1)"/>
<path d="M140,512 L168,525" stroke="#ecdcb4" stroke-width="2.5" opacity="0.5" stroke-linecap="round" filter="url(#dB1)"/>
<path d="M130,565 L180,558" stroke="#ecdcb4" stroke-width="2" opacity="0.5" stroke-linecap="round" filter="url(#dB1)"/>
<path d="M180,570 L215,555" stroke="#ecdcb4" stroke-width="2" opacity="0.5" stroke-linecap="round" filter="url(#dB1)"/>
<path d="M88,520 L96,545" stroke="#ecdcb4" stroke-width="2" opacity="0.6" stroke-linecap="round" filter="url(#dB1)"/>
<path d="M232,480 L250,500" stroke="#ecdcb4" stroke-width="2" opacity="0.6" stroke-linecap="round" filter="url(#dB1)"/>
<path d="M131.9,516.3 L136.8,520.1" stroke="#f0e4c0" stroke-width="1.4" opacity="0.55" stroke-linecap="round" filter="url(#dDot)"/>
<path d="M192.0,486.1 L195.7,487.9" stroke="#f0e4c0" stroke-width="1.4" opacity="0.55" stroke-linecap="round" filter="url(#dDot)"/>
<path d="M135.2,496.8 L142.3,503.8" stroke="#f0e4c0" stroke-width="1.4" opacity="0.55" stroke-linecap="round" filter="url(#dDot)"/>
<path d="M224.7,512.0 L228.5,518.9" stroke="#f0e4c0" stroke-width="1.4" opacity="0.55" stroke-linecap="round" filter="url(#dDot)"/>
<path d="M193.4,536.7 L199.6,540.3" stroke="#f0e4c0" stroke-width="1.4" opacity="0.55" stroke-linecap="round" filter="url(#dDot)"/>
<path d="M199.1,486.0 L205.8,491.3" stroke="#f0e4c0" stroke-width="1.4" opacity="0.55" stroke-linecap="round" filter="url(#dDot)"/>
<path d="M141.7,484.0 L148.3,490.4" stroke="#f0e4c0" stroke-width="1.4" opacity="0.55" stroke-linecap="round" filter="url(#dDot)"/>
<path d="M206.4,537.4 L214.1,540.4" stroke="#f0e4c0" stroke-width="1.4" opacity="0.55" stroke-linecap="round" filter="url(#dDot)"/>
<path d="M156.2,532.5 L162.5,534.8" stroke="#f0e4c0" stroke-width="1.4" opacity="0.55" stroke-linecap="round" filter="url(#dDot)"/>
<path d="M231.2,488.1 L233.8,492.2" stroke="#f0e4c0" stroke-width="1.4" opacity="0.55" stroke-linecap="round" filter="url(#dDot)"/>
<path d="M244.6,509.5 L249.3,515.7" stroke="#f0e4c0" stroke-width="1.4" opacity="0.55" stroke-linecap="round" filter="url(#dDot)"/>
<path d="M173.6,506.3 L178.4,510.1" stroke="#f0e4c0" stroke-width="1.4" opacity="0.55" stroke-linecap="round" filter="url(#dDot)"/>
<path d="M185.6,539.0 L193.1,541.8" stroke="#f0e4c0" stroke-width="1.4" opacity="0.55" stroke-linecap="round" filter="url(#dDot)"/>
<path d="M199.0,492.3 L207.7,495.3" stroke="#f0e4c0" stroke-width="1.4" opacity="0.55" stroke-linecap="round" filter="url(#dDot)"/>
<path d="M235.2,517.9 L239.6,524.9" stroke="#f0e4c0" stroke-width="1.4" opacity="0.55" stroke-linecap="round" filter="url(#dDot)"/>
<path d="M223.9,518.1 L226.3,523.3" stroke="#f0e4c0" stroke-width="1.4" opacity="0.55" stroke-linecap="round" filter="url(#dDot)"/>
<path d="M108.7,532.4 L111.9,538.1" stroke="#f0e4c0" stroke-width="1.4" opacity="0.55" stroke-linecap="round" filter="url(#dDot)"/>
<path d="M140.6,530.4 L144.2,538.9" stroke="#f0e4c0" stroke-width="1.4" opacity="0.55" stroke-linecap="round" filter="url(#dDot)"/>
<path d="M190.3,484.8 L195.4,491.4" stroke="#f0e4c0" stroke-width="1.4" opacity="0.55" stroke-linecap="round" filter="url(#dDot)"/>
<path d="M173.3,544.9 L175.8,550.2" stroke="#f0e4c0" stroke-width="1.4" opacity="0.55" stroke-linecap="round" filter="url(#dDot)"/>
<path d="M188.0,484.0 L191.5,487.8" stroke="#f0e4c0" stroke-width="1.4" opacity="0.55" stroke-linecap="round" filter="url(#dDot)"/>
<path d="M189.6,491.8 L193.5,493.6" stroke="#f0e4c0" stroke-width="1.4" opacity="0.55" stroke-linecap="round" filter="url(#dDot)"/>
<path d="M143.6,542.4 L149.8,549.5" stroke="#f0e4c0" stroke-width="1.4" opacity="0.55" stroke-linecap="round" filter="url(#dDot)"/>
<path d="M166.4,514.8 L172.6,519.6" stroke="#f0e4c0" stroke-width="1.4" opacity="0.55" stroke-linecap="round" filter="url(#dDot)"/>
<path d="M181.7,521.1 L188.8,527.6" stroke="#f0e4c0" stroke-width="1.4" opacity="0.55" stroke-linecap="round" filter="url(#dDot)"/>
<path d="M161.8,527.4 L165.1,531.7" stroke="#f0e4c0" stroke-width="1.4" opacity="0.55" stroke-linecap="round" filter="url(#dDot)"/>
<path d="M246.6,514.8 L249.3,521.6" stroke="#f0e4c0" stroke-width="1.4" opacity="0.55" stroke-linecap="round" filter="url(#dDot)"/>
<path d="M159.4,518.5 L162.6,521.0" stroke="#f0e4c0" stroke-width="1.4" opacity="0.55" stroke-linecap="round" filter="url(#dDot)"/>
<path d="M193.0,485.8 L198.5,491.2" stroke="#f0e4c0" stroke-width="1.4" opacity="0.55" stroke-linecap="round" filter="url(#dDot)"/>
<path d="M200.3,504.2 L207.4,508.4" stroke="#f0e4c0" stroke-width="1.4" opacity="0.55" stroke-linecap="round" filter="url(#dDot)"/>
<path d="M199.8,542.7 L203.7,546.6" stroke="#f0e4c0" stroke-width="1.4" opacity="0.55" stroke-linecap="round" filter="url(#dDot)"/>
<path d="M186.9,502.2 L190.6,507.1" stroke="#f0e4c0" stroke-width="1.4" opacity="0.55" stroke-linecap="round" filter="url(#dDot)"/>
<path d="M152.2,519.5 L156.0,523.9" stroke="#f0e4c0" stroke-width="1.4" opacity="0.55" stroke-linecap="round" filter="url(#dDot)"/>
<path d="M214.7,483.7 L221.1,487.5" stroke="#f0e4c0" stroke-width="1.4" opacity="0.55" stroke-linecap="round" filter="url(#dDot)"/>
<path d="M143.1,496.0 L147.9,503.4" stroke="#f0e4c0" stroke-width="1.4" opacity="0.55" stroke-linecap="round" filter="url(#dDot)"/>
<path d="M124.0,509.4 L127.7,516.7" stroke="#f0e4c0" stroke-width="1.4" opacity="0.55" stroke-linecap="round" filter="url(#dDot)"/>
<path d="M115,488 C125,505 130,530 125,545 M180,478 C185,500 190,520 187,543 M135,510 C150,525 165,540 175,548" stroke="#4a3028" stroke-width="1" fill="none" opacity="0.6"/>
<ellipse cx="88" cy="478" rx="8" ry="14" fill="#ece4c4" opacity="0.7" filter="url(#dB3)"/>
<ellipse cx="327" cy="578" rx="10" ry="9" fill="#e4e8e8" filter="url(#dB3)"/>
<rect x="-5" y="300" width="10" height="290" fill="#302028" opacity="0.6" filter="url(#dB3)"/>
<rect x="0" y="583" width="360" height="10" fill="#302028" opacity="0.5" filter="url(#dB1)"/>
<circle cx="30.3" cy="349.4" r="7" fill="#3050e0" opacity="0.9" filter="url(#dB3)"/>
<circle cx="30.3" cy="349.4" r="3" fill="#6080ff" filter="url(#dDot)"/>
<circle cx="96.1" cy="355.7" r="3.1" fill="#1a2ee8" filter="url(#dDot)"/>
<circle cx="54.4" cy="384" r="3.1" fill="#1a2ee8" filter="url(#dDot)"/>
<circle cx="87.2" cy="384.8" r="3.1" fill="#1a2ee8" filter="url(#dDot)"/>
<circle cx="108.2" cy="389.1" r="3.1" fill="#1a2ee8" filter="url(#dDot)"/>
<circle cx="93.6" cy="406.3" r="3.1" fill="#1a2ee8" filter="url(#dDot)"/>
<circle cx="41.7" cy="415.9" r="3.1" fill="#1a2ee8" filter="url(#dDot)"/>
<circle cx="134" cy="420.2" r="3.1" fill="#3a80f0" filter="url(#dDot)"/>
<circle cx="153" cy="418.1" r="3.1" fill="#1a2ee8" filter="url(#dDot)"/>
<circle cx="174" cy="420.2" r="3.1" fill="#1a2ee8" filter="url(#dDot)"/>
<circle cx="65.2" cy="440.4" r="3.1" fill="#1a2ee8" filter="url(#dDot)"/>
<circle cx="136.5" cy="435.8" r="3.1" fill="#0c0c98" filter="url(#dDot)"/>
<circle cx="182.1" cy="392.3" r="3.1" fill="#38d0e8" filter="url(#dDot)"/>
<circle cx="205.9" cy="402.5" r="3.1" fill="#3a80f0" filter="url(#dDot)"/>
<circle cx="199.8" cy="388.6" r="3.1" fill="#0c0c98" filter="url(#dDot)"/>
<circle cx="248.9" cy="417.6" r="3.1" fill="#38d0e8" filter="url(#dDot)"/>
<circle cx="260.5" cy="410" r="3.1" fill="#1a2ee8" filter="url(#dDot)"/>
<circle cx="272.4" cy="411.8" r="3.1" fill="#1a2ee8" filter="url(#dDot)"/>
<circle cx="281.2" cy="405.5" r="3.1" fill="#1a2ee8" filter="url(#dDot)"/>
<circle cx="307.8" cy="415.9" r="4.6" fill="#f0f0f0" opacity="0.8" filter="url(#dDot)"/>
<circle cx="307.8" cy="415.9" r="3.1" fill="#1a2ee8" filter="url(#dDot)"/>
<circle cx="273.7" cy="435.3" r="3.1" fill="#1a2ee8" filter="url(#dDot)"/>
<circle cx="240.8" cy="442.4" r="3.1" fill="#1a2ee8" filter="url(#dDot)"/>
<circle cx="323.5" cy="442.4" r="3.1" fill="#1a2ee8" filter="url(#dDot)"/>
<circle cx="152.1" cy="447.2" r="3.1" fill="#1a2ee8" filter="url(#dDot)"/>
<circle cx="141.3" cy="466.6" r="3.1" fill="#0c0c98" filter="url(#dDot)"/>
<circle cx="158.6" cy="474.8" r="3.1" fill="#0c0c98" filter="url(#dDot)"/>
<circle cx="177.9" cy="473" r="3.1" fill="#38d0e8" filter="url(#dDot)"/>
<circle cx="76.1" cy="480" r="3.1" fill="#1a2ee8" filter="url(#dDot)"/>
<circle cx="104.4" cy="476.6" r="3.1" fill="#1a2ee8" filter="url(#dDot)"/>
<circle cx="149" cy="485.9" r="3.1" fill="#3a80f0" filter="url(#dDot)"/>
<circle cx="126.4" cy="497.2" r="3.1" fill="#1a2ee8" filter="url(#dDot)"/>
<circle cx="175.3" cy="522" r="3.1" fill="#1a2ee8" filter="url(#dDot)"/>
<circle cx="224.2" cy="460.6" r="4.6" fill="#f0f0f0" opacity="0.8" filter="url(#dDot)"/>
<circle cx="224.2" cy="460.6" r="3.1" fill="#0c0c98" filter="url(#dDot)"/>
<circle cx="233.2" cy="483.3" r="3.1" fill="#38d0e8" filter="url(#dDot)"/>
<circle cx="211.3" cy="495.4" r="3.1" fill="#1a2ee8" filter="url(#dDot)"/>
<circle cx="228.8" cy="494.9" r="3.1" fill="#0c0c98" filter="url(#dDot)"/>
<circle cx="268" cy="496.7" r="3.1" fill="#38d0e8" filter="url(#dDot)"/>
<circle cx="182.9" cy="505.8" r="3.1" fill="#0c0c98" filter="url(#dDot)"/>
<circle cx="200.4" cy="509.6" r="3.1" fill="#0c0c98" filter="url(#dDot)"/>
<circle cx="219" cy="514.3" r="3.1" fill="#0c0c98" filter="url(#dDot)"/>
<circle cx="282.2" cy="510.1" r="3.1" fill="#1a2ee8" filter="url(#dDot)"/>
<circle cx="241.7" cy="535.9" r="3.1" fill="#1a2ee8" filter="url(#dDot)"/>
<circle cx="276.2" cy="530.3" r="3.1" fill="#1a2ee8" filter="url(#dDot)"/>
<circle cx="207.4" cy="544.4" r="3.1" fill="#1a2ee8" filter="url(#dDot)"/>
</g>
<text x="12.5" y="336" font-size="32.5" class="serif" fill="#f4f4f4">(d)</text>
<rect x="361.5" y="301" width="37.5" height="286.5" fill="url(#jet)"/>
<path d="M361.5,324.8 h1.5 M399,324.8 h-1.5 M361.5,369.4 h1.5 M399,369.4 h-1.5 M361.5,412.7 h1.5 M399,412.7 h-1.5 M361.5,457.3 h1.5 M399,457.3 h-1.5 M361.5,502.6 h1.5 M399,502.6 h-1.5 M361.5,547.2 h1.5 M399,547.2 h-1.5" stroke="#333" stroke-width="0.8" opacity="0.6"/>
<text transform="translate(385.8,328.2) rotate(-90)" font-size="20" fill="#000" opacity="0.45" text-anchor="middle">100</text>
<text transform="translate(385.8,575) rotate(-90)" font-size="20" fill="#000" opacity="0.45" text-anchor="middle">0</text>
<text transform="translate(387.5,481) rotate(-90)" font-size="17" font-style="italic" fill="#0a2a30" opacity="0.9">StO<tspan font-size="11" dy="3">2</tspan><tspan dy="-3"> (%)</tspan></text>
<g font-size="32" fill="#000">
<text x="128.5" y="-1.5">y</text>
<text x="505" y="-1.5">y</text>
<text x="520" y="-1.5">,</text>
<text x="1003" y="-1.5">y</text>
<text x="1028" y="-1.5">(</text>
<text x="1069" y="-1.5">g</text>
<text x="1130" y="-1.5">(</text>
<text x="1156" y="-1.5">)</text>
<text x="1168" y="-1.5">)</text>
</g>
<g id="pb">
<path d="M466.3,236.2 C467.5,235.0 470.9,230.7 473.5,229.0 C476.1,227.3 478.3,226.8 482.1,226.1 C485.9,225.4 491.1,225.4 496.4,224.7 C501.6,224.0 509.1,222.5 513.6,221.8 C518.1,221.1 520.7,221.1 523.6,220.4 C526.5,219.7 528.6,217.5 530.8,217.5 C532.9,217.5 534.1,220.2 536.5,220.4 C538.9,220.7 542.0,219.5 545.1,219.0 C548.2,218.5 551.0,218.2 555.0,217.3 C559.0,216.4 564.5,213.2 569.2,213.8 C573.9,214.4 578.7,219.4 583.4,220.9 C588.1,222.4 592.8,222.3 597.5,222.6 C602.2,222.9 607.0,222.2 611.7,222.6 C616.4,223.0 621.2,224.8 625.9,225.1 C630.6,225.4 636.2,225.7 640.1,224.4 C644.0,223.1 647.0,222.1 649.0,217.3 C651.0,212.6 650.4,207.7 652.1,195.9 C653.8,184.1 656.8,161.7 659.2,146.3 C661.6,131.0 663.9,115.0 666.3,103.8 C668.6,92.6 670.9,84.9 673.3,79.0 C675.6,73.1 677.4,71.0 680.4,68.3 C683.4,65.6 687.2,63.3 691.1,63.0 C695.0,62.7 700.0,66.0 703.5,66.6 C707.0,67.2 709.3,67.4 712.3,66.6 C715.2,65.8 718.2,62.0 721.2,62.0 C724.2,62.0 727.6,63.8 730.0,66.6 C732.4,69.4 733.6,73.4 735.4,79.0 C737.2,84.6 738.6,97.0 740.7,100.2 C742.8,103.5 744.8,100.6 747.8,98.5 C750.8,96.4 755.1,90.6 758.4,87.8 C761.6,85.0 764.3,84.1 767.3,81.8 C770.2,79.5 774.6,75.0 776.1,73.7" fill="none" stroke="#b03c48" stroke-width="1.3" stroke-linejoin="round"/>
<path d="M466.3,211.8 C466.8,208.0 468.0,196.5 469.2,188.9 C470.4,181.3 471.8,172.7 473.5,166.0 C475.2,159.3 477.3,154.5 479.2,148.8 C481.1,143.1 483.2,136.4 484.9,131.6 C486.6,126.8 487.8,122.6 489.2,120.1 C490.6,117.6 492.1,118.6 493.5,116.7 C494.9,114.8 495.9,112.7 497.8,108.7 C499.7,104.7 503.1,95.5 505.0,92.9 C506.9,90.3 507.6,93.1 509.3,92.9 C511.0,92.7 513.3,91.3 515.0,91.5 C516.7,91.7 517.6,93.3 519.3,94.3 C521.0,95.2 523.1,96.7 525.0,97.2 C526.9,97.7 528.9,95.8 530.8,97.2 C532.7,98.6 534.6,103.4 536.5,105.8 C538.4,108.2 540.3,110.1 542.2,111.5 C544.1,112.9 545.9,113.3 548.0,114.4 C550.1,115.5 552.9,116.6 555.0,118.0 C557.1,119.4 558.5,120.6 560.9,123.0 C563.3,125.4 566.1,127.7 569.2,132.2 C572.4,136.7 576.2,144.0 579.8,149.9 C583.3,155.8 587.0,161.8 590.5,167.7 C594.0,173.6 597.6,180.1 601.1,185.4 C604.6,190.7 607.6,194.9 611.7,199.6 C615.8,204.3 621.2,210.2 625.9,213.8 C630.6,217.4 636.5,220.0 640.1,220.9 C643.7,221.8 644.6,221.5 647.2,219.1 C649.8,216.7 652.4,212.8 655.6,206.6 C658.8,200.4 662.2,189.7 666.3,181.7 C670.4,173.7 676.3,163.4 680.4,158.7 C684.5,154.0 687.2,152.6 691.1,153.4 C695.0,154.2 700.2,161.8 703.5,163.3 C706.8,164.8 707.6,165.1 710.6,162.3 C713.6,159.5 718.0,147.8 721.2,146.3 C724.4,144.8 727.0,149.6 730.0,153.4 C733.0,157.2 735.4,165.2 738.9,169.3 C742.4,173.4 748.0,177.6 751.3,178.2 C754.5,178.8 756.3,170.5 758.4,172.9 C760.5,175.3 761.9,193.3 763.7,192.4 C765.5,191.5 767.6,169.4 769.1,167.6 C770.6,165.8 771.4,178.2 772.6,181.7 C773.8,185.2 775.5,187.6 776.1,188.8" fill="none" stroke="#5c5c64" stroke-width="1.2" stroke-linejoin="round"/>
<path d="M466.3,237.6 C467.0,233.3 468.9,219.0 470.6,211.8 C472.3,204.6 474.4,198.9 476.3,194.6 C478.2,190.3 480.2,188.6 482.1,186.0 C484.0,183.4 485.4,181.1 487.8,178.9 C490.2,176.8 493.1,175.2 496.4,173.1 C499.7,170.9 504.0,167.7 507.8,166.0 C511.6,164.3 515.5,164.1 519.3,163.1 C523.1,162.1 527.7,161.1 530.8,160.2 C533.9,159.2 535.5,160.3 537.9,157.4 C540.3,154.5 543.0,149.2 545.1,143.0 C547.2,136.8 549.1,126.9 550.8,120.1 C552.4,113.3 553.6,108.7 555.0,102.0 C556.4,95.3 558.2,85.6 559.4,80.0 C560.6,74.4 560.5,73.0 562.1,68.4 C563.7,63.8 567.1,54.5 569.2,52.4 C571.3,50.3 572.1,52.1 574.5,56.0 C576.9,59.9 580.1,67.5 583.4,75.5 C586.6,83.5 590.5,94.3 594.0,103.8 C597.5,113.2 601.1,122.7 604.6,132.2 C608.1,141.7 611.8,151.7 615.3,160.6 C618.8,169.5 622.3,178.9 625.9,185.4 C629.5,191.9 633.0,196.7 636.6,199.6 C640.2,202.5 644.0,203.7 647.2,203.1 C650.4,202.5 652.4,200.1 655.6,195.9 C658.8,191.8 662.2,184.7 666.3,178.2 C670.4,171.7 676.3,161.2 680.4,156.9 C684.5,152.7 687.2,152.0 691.1,152.7 C695.0,153.4 700.2,160.2 703.5,161.2 C706.8,162.2 707.6,161.5 710.6,158.7 C713.6,155.9 718.0,146.0 721.2,144.5 C724.4,143.0 727.0,146.9 730.0,149.9 C733.0,152.9 735.6,159.4 738.9,162.3 C742.1,165.2 746.2,167.3 749.5,167.6 C752.8,167.9 756.3,162.8 758.4,164.0 C760.5,165.2 760.8,170.3 762.0,174.7 C763.2,179.1 764.3,192.7 765.5,190.6 C766.7,188.5 767.9,165.0 769.1,162.3 C770.3,159.7 771.3,167.9 772.6,174.7 C773.9,181.5 776.3,198.3 777.0,203.0" fill="none" stroke="#38b488" stroke-width="1.2" stroke-linejoin="round"/>
<rect x="466.5" y="12.8" width="310.0" height="234.2" fill="none" stroke="#404040" stroke-width="1.5"/>
<line x1="514.9" y1="247.0" x2="514.9" y2="244.0" stroke="#404040" stroke-width="1"/>
<line x1="563.4" y1="247.0" x2="563.4" y2="244.0" stroke="#404040" stroke-width="1"/>
<line x1="611.8" y1="247.0" x2="611.8" y2="244.0" stroke="#404040" stroke-width="1"/>
<line x1="660.2" y1="247.0" x2="660.2" y2="244.0" stroke="#404040" stroke-width="1"/>
<line x1="708.7" y1="247.0" x2="708.7" y2="244.0" stroke="#404040" stroke-width="1"/>
<line x1="757.1" y1="247.0" x2="757.1" y2="244.0" stroke="#404040" stroke-width="1"/>
<text x="436" y="251.0" font-size="11" fill="#404040" textLength="20" lengthAdjust="spacingAndGlyphs">0.00</text>
<text x="436" y="227.6" font-size="11" fill="#404040" textLength="20" lengthAdjust="spacingAndGlyphs">0.02</text>
<text x="436" y="204.2" font-size="11" fill="#404040" textLength="20" lengthAdjust="spacingAndGlyphs">0.04</text>
<text x="436" y="180.7" font-size="11" fill="#404040" textLength="20" lengthAdjust="spacingAndGlyphs">0.06</text>
<text x="436" y="157.3" font-size="11" fill="#404040" textLength="20" lengthAdjust="spacingAndGlyphs">0.08</text>
<text x="436" y="133.9" font-size="11" fill="#404040" textLength="20" lengthAdjust="spacingAndGlyphs">0.10</text>
<text x="436" y="110.5" font-size="11" fill="#404040" textLength="20" lengthAdjust="spacingAndGlyphs">0.12</text>
<text x="436" y="87.1" font-size="11" fill="#404040" textLength="20" lengthAdjust="spacingAndGlyphs">0.14</text>
<text x="436" y="63.6" font-size="11" fill="#404040" textLength="20" lengthAdjust="spacingAndGlyphs">0.16</text>
<text x="436" y="40.2" font-size="11" fill="#404040" textLength="20" lengthAdjust="spacingAndGlyphs">0.18</text>
<text x="436" y="16.8" font-size="11" fill="#404040" textLength="20" lengthAdjust="spacingAndGlyphs">0.20</text>
<text x="466.5" y="265.8" font-size="11" fill="#404040" text-anchor="middle">400</text>
<text x="514.9" y="265.8" font-size="11" fill="#404040" text-anchor="middle">450</text>
<text x="563.4" y="265.8" font-size="11" fill="#404040" text-anchor="middle">500</text>
<text x="611.8" y="265.8" font-size="11" fill="#404040" text-anchor="middle">550</text>
<text x="660.2" y="265.8" font-size="11" fill="#404040" text-anchor="middle">600</text>
<text x="708.7" y="265.8" font-size="11" fill="#404040" text-anchor="middle">650</text>
<text x="757.1" y="265.8" font-size="11" fill="#404040" text-anchor="middle">700</text>
<text x="568" y="284.7" font-size="13.7" font-weight="bold" fill="#222" xml:space="preserve" textLength="106" lengthAdjust="spacingAndGlyphs">Wavelength  /  nm</text>
<text transform="translate(431.5,200.6) rotate(-90)" font-size="13.2" font-weight="bold" fill="#222" textLength="141.8" lengthAdjust="spacingAndGlyphs">Normalised Reflectance</text>
<text x="488.5" y="39.2" font-size="30.5" class="serif" fill="#111">(b)</text>
<rect x="588.3" y="19.4" width="86.8" height="43" fill="#fff" stroke="#333" stroke-width="1.2"/>
<line x1="594.2" y1="27.0" x2="607.5" y2="27.0" stroke="#c05060" stroke-width="1.5"/>
<text x="609.2" y="30.7" font-size="10" fill="#333">Red Region</text>
<line x1="594.2" y1="40.8" x2="607.5" y2="40.8" stroke="#40b080" stroke-width="1.5"/>
<text x="609.2" y="44.5" font-size="10" fill="#333">Green Region</text>
<line x1="594.2" y1="54.5" x2="607.5" y2="54.5" stroke="#707070" stroke-width="1.5"/>
<text x="609.2" y="58.2" font-size="10" fill="#333">Blue Region</text>
</g>
<g id="pe">
<path d="M478.4,444.9 C480.6,443.6 486.8,440.4 491.9,437.3 C496.9,434.2 503.1,430.5 508.7,426.4 C514.3,422.3 520.0,418.9 525.6,412.9 C531.2,406.8 537.3,396.9 542.5,390.1 C547.7,383.4 551.7,379.0 556.9,372.4 C562.1,365.8 568.7,356.7 573.7,350.5 C578.8,344.3 583.0,339.1 587.2,335.3 C591.4,331.5 595.6,329.0 599.0,327.7 C602.4,326.4 603.8,327.1 607.5,327.7 C611.2,328.3 617.1,329.3 621.0,331.1 C624.9,332.9 627.6,335.9 631.0,338.7 C634.4,341.5 638.0,345.8 641.2,347.9 C644.4,350.0 644.9,349.0 650.0,351.3 C655.1,353.6 666.2,356.7 671.6,361.6 C677.0,366.5 678.4,372.9 682.4,380.5 C686.4,388.1 690.9,397.1 695.8,407.4 C700.7,417.7 707.0,432.1 712.0,442.5 C717.0,452.9 720.5,461.9 725.5,469.5 C730.5,477.1 736.6,484.2 741.7,488.3 C746.8,492.4 750.1,491.6 756.2,494.3 C762.3,497.0 774.5,502.7 778.1,504.4" fill="none" stroke="#c8282e" stroke-width="1.5"/>
<ellipse cx="480.4" cy="425.2" rx="3.8" ry="3.4" fill="#000"/>
<ellipse cx="488.2" cy="422.2" rx="3.8" ry="3.4" fill="#000"/>
<ellipse cx="493.2" cy="419.8" rx="3.8" ry="3.4" fill="#000"/>
<ellipse cx="498.6" cy="418.4" rx="3.8" ry="3.4" fill="#000"/>
<ellipse cx="505.7" cy="420.1" rx="3.8" ry="3.4" fill="#000"/>
<ellipse cx="510.7" cy="412" rx="3.8" ry="3.4" fill="#000"/>
<ellipse cx="515.5" cy="407" rx="3.8" ry="3.4" fill="#000"/>
<ellipse cx="520.5" cy="410.9" rx="3.8" ry="3.4" fill="#000"/>
<ellipse cx="528.1" cy="404.8" rx="3.8" ry="3.4" fill="#000"/>
<ellipse cx="533.2" cy="398.5" rx="3.8" ry="3.4" fill="#000"/>
<ellipse cx="538.2" cy="387.1" rx="3.8" ry="3.4" fill="#000"/>
<ellipse cx="543.3" cy="385.9" rx="3.8" ry="3.4" fill="#000"/>
<ellipse cx="551" cy="382.8" rx="3.8" ry="3.4" fill="#000"/>
<ellipse cx="556" cy="375.8" rx="3.8" ry="3.4" fill="#000"/>
<ellipse cx="561.1" cy="374.9" rx="3.8" ry="3.4" fill="#000"/>
<ellipse cx="566.1" cy="375.4" rx="3.8" ry="3.4" fill="#000"/>
<ellipse cx="572.9" cy="359.2" rx="3.8" ry="3.4" fill="#000"/>
<ellipse cx="577.9" cy="347.4" rx="3.8" ry="3.4" fill="#000"/>
<ellipse cx="583" cy="345.1" rx="3.8" ry="3.4" fill="#000"/>
<ellipse cx="588.1" cy="349.8" rx="3.8" ry="3.4" fill="#000"/>
<ellipse cx="595.6" cy="339" rx="3.8" ry="3.4" fill="#000"/>
<ellipse cx="600.7" cy="338.2" rx="3.8" ry="3.4" fill="#000"/>
<ellipse cx="605.8" cy="331.9" rx="3.8" ry="3.4" fill="#000"/>
<ellipse cx="612.5" cy="330.6" rx="3.8" ry="3.4" fill="#000"/>
<ellipse cx="617.6" cy="334.5" rx="3.8" ry="3.4" fill="#000"/>
<ellipse cx="623" cy="334.5" rx="3.8" ry="3.4" fill="#000"/>
<ellipse cx="627.7" cy="344.9" rx="3.8" ry="3.4" fill="#000"/>
<ellipse cx="635.3" cy="360.6" rx="3.8" ry="3.4" fill="#000"/>
<ellipse cx="640.3" cy="350.1" rx="3.8" ry="3.4" fill="#000"/>
<ellipse cx="645.4" cy="351.3" rx="3.8" ry="3.4" fill="#000"/>
<ellipse cx="650.5" cy="369" rx="3.8" ry="3.4" fill="#000"/>
<ellipse cx="657.2" cy="362.3" rx="3.8" ry="3.4" fill="#000"/>
<ellipse cx="662.9" cy="366.4" rx="3.8" ry="3.4" fill="#000"/>
<ellipse cx="668.1" cy="350.8" rx="3.8" ry="3.4" fill="#000"/>
<ellipse cx="673.7" cy="363.5" rx="3.8" ry="3.4" fill="#000"/>
<ellipse cx="680.5" cy="366.4" rx="3.8" ry="3.4" fill="#000"/>
<ellipse cx="685.6" cy="362.9" rx="3.8" ry="3.4" fill="#000"/>
<ellipse cx="690.5" cy="372.4" rx="3.8" ry="3.4" fill="#000"/>
<ellipse cx="695.8" cy="384.5" rx="3.8" ry="3.4" fill="#000"/>
<ellipse cx="703.1" cy="404.7" rx="3.8" ry="3.4" fill="#000"/>
<ellipse cx="707.4" cy="417.4" rx="3.8" ry="3.4" fill="#000"/>
<ellipse cx="712.6" cy="435.7" rx="3.8" ry="3.4" fill="#000"/>
<ellipse cx="720.1" cy="442.5" rx="3.8" ry="3.4" fill="#000"/>
<ellipse cx="725.5" cy="458.7" rx="3.8" ry="3.4" fill="#000"/>
<ellipse cx="730.1" cy="475.4" rx="3.8" ry="3.4" fill="#000"/>
<ellipse cx="735.5" cy="487.2" rx="3.8" ry="3.4" fill="#000"/>
<ellipse cx="743.2" cy="487.1" rx="3.8" ry="3.4" fill="#000"/>
<ellipse cx="747.6" cy="496.8" rx="3.8" ry="3.4" fill="#000"/>
<ellipse cx="752" cy="508.6" rx="3.8" ry="3.4" fill="#000"/>
<ellipse cx="757.7" cy="508.6" rx="3.8" ry="3.4" fill="#000"/>
<ellipse cx="765.1" cy="520.6" rx="3.8" ry="3.4" fill="#000"/>
<ellipse cx="770.5" cy="531.4" rx="3.8" ry="3.4" fill="#000"/>
<rect x="478.3" y="306.7" width="299.7" height="236.8" fill="none" stroke="#404040" stroke-width="1.5"/>
<line x1="478.3" y1="517.2" x2="481.8" y2="517.2" stroke="#404040" stroke-width="1"/>
<line x1="478.3" y1="490.9" x2="481.8" y2="490.9" stroke="#404040" stroke-width="1"/>
<line x1="478.3" y1="464.6" x2="481.8" y2="464.6" stroke="#404040" stroke-width="1"/>
<line x1="478.3" y1="438.3" x2="481.8" y2="438.3" stroke="#404040" stroke-width="1"/>
<line x1="478.3" y1="412.0" x2="481.8" y2="412.0" stroke="#404040" stroke-width="1"/>
<line x1="478.3" y1="385.6" x2="481.8" y2="385.6" stroke="#404040" stroke-width="1"/>
<line x1="478.3" y1="359.3" x2="481.8" y2="359.3" stroke="#404040" stroke-width="1"/>
<line x1="478.3" y1="333.0" x2="481.8" y2="333.0" stroke="#404040" stroke-width="1"/>
<line x1="528.2" y1="543.5" x2="528.2" y2="540.0" stroke="#404040" stroke-width="1"/>
<line x1="578.2" y1="543.5" x2="578.2" y2="540.0" stroke="#404040" stroke-width="1"/>
<line x1="628.2" y1="543.5" x2="628.2" y2="540.0" stroke="#404040" stroke-width="1"/>
<line x1="678.1" y1="543.5" x2="678.1" y2="540.0" stroke="#404040" stroke-width="1"/>
<line x1="728.0" y1="543.5" x2="728.0" y2="540.0" stroke="#404040" stroke-width="1"/>
<text x="465" y="547.5" font-size="11" font-weight="bold" fill="#505050" text-anchor="end" textLength="24" lengthAdjust="spacingAndGlyphs">0.08</text>
<text x="465" y="521.2" font-size="11" font-weight="bold" fill="#505050" text-anchor="end" textLength="24" lengthAdjust="spacingAndGlyphs">0.09</text>
<text x="465" y="494.9" font-size="11" font-weight="bold" fill="#505050" text-anchor="end" textLength="24" lengthAdjust="spacingAndGlyphs">0.10</text>
<text x="465" y="468.6" font-size="11" font-weight="bold" fill="#505050" text-anchor="end" textLength="24" lengthAdjust="spacingAndGlyphs">0.11</text>
<text x="465" y="442.3" font-size="11" font-weight="bold" fill="#505050" text-anchor="end" textLength="24" lengthAdjust="spacingAndGlyphs">0.12</text>
<text x="465" y="416.0" font-size="11" font-weight="bold" fill="#505050" text-anchor="end" textLength="24" lengthAdjust="spacingAndGlyphs">0.13</text>
<text x="465" y="389.6" font-size="11" font-weight="bold" fill="#505050" text-anchor="end" textLength="24" lengthAdjust="spacingAndGlyphs">0.14</text>
<text x="465" y="363.3" font-size="11" font-weight="bold" fill="#505050" text-anchor="end" textLength="24" lengthAdjust="spacingAndGlyphs">0.15</text>
<text x="465" y="337.0" font-size="11" font-weight="bold" fill="#505050" text-anchor="end" textLength="24" lengthAdjust="spacingAndGlyphs">0.16</text>
<text x="465" y="310.7" font-size="11" font-weight="bold" fill="#505050" text-anchor="end" textLength="24" lengthAdjust="spacingAndGlyphs">0.17</text>
<text x="467.8" y="563.8" font-size="11" font-weight="bold" fill="#505050" textLength="21" lengthAdjust="spacingAndGlyphs">500</text>
<text x="517.8" y="563.8" font-size="11" font-weight="bold" fill="#505050" textLength="21" lengthAdjust="spacingAndGlyphs">520</text>
<text x="567.7" y="563.8" font-size="11" font-weight="bold" fill="#505050" textLength="21" lengthAdjust="spacingAndGlyphs">540</text>
<text x="617.7" y="563.8" font-size="11" font-weight="bold" fill="#505050" textLength="21" lengthAdjust="spacingAndGlyphs">560</text>
<text x="667.6" y="563.8" font-size="11" font-weight="bold" fill="#505050" textLength="21" lengthAdjust="spacingAndGlyphs">580</text>
<text x="717.5" y="563.8" font-size="11" font-weight="bold" fill="#505050" textLength="21" lengthAdjust="spacingAndGlyphs">600</text>
<text x="767.5" y="563.8" font-size="11" font-weight="bold" fill="#505050" textLength="21" lengthAdjust="spacingAndGlyphs">620</text>
<text x="561.5" y="581.9" font-size="14" font-weight="bold" fill="#222" xml:space="preserve" textLength="133" lengthAdjust="spacingAndGlyphs">Wavelength  /  nm</text>
<text transform="translate(434.4,462.6) rotate(-90)" font-size="14.5" font-weight="bold" fill="#222" textLength="75.9" lengthAdjust="spacingAndGlyphs">Absorbance</text>
<text x="494" y="336.5" font-size="30.5" class="serif" fill="#111">(e)</text>
<rect x="710.8" y="312.9" width="56.4" height="29.7" fill="#fff" stroke="#333" stroke-width="1.2"/>
<ellipse cx="730" cy="320.7" rx="4" ry="3.6" fill="#000"/>
<line x1="721.2" y1="335" x2="738.2" y2="335" stroke="#d04050" stroke-width="1.5"/>
<text x="740.3" y="323.9" font-size="10" fill="#333">Exp</text>
<text x="740.3" y="338.6" font-size="10" fill="#333">Fit</text>
</g>
<g id="pc">
<defs>
<pattern id="patP" width="3.2" height="3" patternUnits="userSpaceOnUse" patternTransform="rotate(-25)"><rect width="3.2" height="3" fill="#b8acd8"/><rect width="3.2" height="1.3" fill="#7a68b8"/></pattern>
<pattern id="patR" width="3" height="2.8" patternUnits="userSpaceOnUse" patternTransform="rotate(32)"><rect width="3" height="2.8" fill="#f6aca0"/><rect width="3" height="1.35" fill="#ea3428"/></pattern>
<pattern id="patG" width="3.2" height="3.2" patternUnits="userSpaceOnUse" patternTransform="rotate(35)"><rect width="3.2" height="3.2" fill="#e2f0da"/><rect width="3.2" height="1.1" fill="#70ac60"/></pattern>
<pattern id="patG2" width="3.6" height="3.6" patternUnits="userSpaceOnUse" patternTransform="rotate(35)"><rect width="3.6" height="3.6" fill="#f2f8ee"/><circle cx="1" cy="1" r="0.9" fill="#70a860"/></pattern>
</defs>
<g stroke="#333" stroke-width="1" fill="none">
<path d="M879,84 L1076,17 L1172,95 M1076,17 V113 M879,180 L1076,113 L1172,191 M879,84 L975,163"/>
</g>
<path d="M1041.3,106.7 C1045.6,105.3 1052.2,107.3 1059.9,109.5 C1067.6,111.7 1080.6,116.8 1087.7,119.7 C1094.8,122.6 1096.8,121.8 1102.7,127.0 C1108.6,132.2 1117.1,143.2 1123.0,151.0 C1128.9,158.8 1134.9,165.9 1138.0,173.5 C1141.1,181.1 1144.4,194.8 1141.6,196.7 C1138.8,198.5 1128.4,187.8 1121.0,184.6 C1113.6,181.3 1103.8,179.4 1097.0,177.2 C1090.2,175.0 1084.3,174.4 1080.0,171.6 C1075.7,168.8 1076.2,165.1 1071.0,160.5 C1065.8,155.9 1054.9,147.4 1048.7,143.8 C1042.5,140.2 1039.3,140.6 1034.0,139.0 C1028.7,137.4 1018.2,136.0 1017.0,134.5 C1015.8,133.0 1023.7,132.7 1026.5,129.9 C1029.3,127.2 1031.5,121.9 1034.0,118.0 C1036.5,114.1 1037.0,108.1 1041.3,106.7Z" fill="url(#patG)"/>
<path d="M945.8,150.0 C945.5,148.8 947.9,144.7 950.0,142.0 C952.1,139.3 954.9,137.2 958.7,133.7 C962.5,130.2 968.2,124.4 973.0,120.8 C977.8,117.2 981.3,114.5 987.3,112.2 C993.3,109.9 1001.7,108.3 1008.9,107.2 C1016.1,106.1 1024.9,105.8 1030.4,105.8 C1035.9,105.8 1041.2,105.0 1041.8,107.0 C1042.4,109.0 1036.5,114.2 1034.0,118.0 C1031.5,121.8 1029.5,127.2 1026.5,129.9 C1023.5,132.6 1021.3,133.3 1016.0,134.4 C1010.7,135.5 1001.7,135.3 994.5,136.6 C987.3,137.9 980.2,140.2 973.0,142.3 C965.8,144.5 956.0,148.2 951.5,149.5 C947.0,150.8 946.0,151.2 945.8,150.0Z" fill="url(#patP)"/>
<path d="M946.0,152.0 C950.7,149.7 964.9,145.4 973.0,143.0 C981.1,140.6 987.2,138.9 994.5,137.5 C1001.8,136.1 1010.4,134.2 1017.0,134.5 C1023.6,134.8 1028.7,137.4 1034.0,139.0 C1039.3,140.6 1044.0,141.6 1048.7,143.8 C1053.4,146.0 1058.3,149.2 1062.0,152.0 C1065.7,154.8 1068.0,157.2 1071.0,160.5 C1074.0,163.8 1083.5,169.8 1080.0,171.6 C1076.5,173.3 1060.7,171.3 1050.0,171.0 C1039.3,170.7 1026.5,170.1 1016.0,169.6 C1005.5,169.1 995.7,168.6 987.3,168.1 C978.9,167.6 972.0,167.6 965.8,166.7 C959.6,165.8 953.5,164.0 950.0,162.4 C946.5,160.8 945.7,158.7 945.0,157.0 C944.3,155.3 941.3,154.3 946.0,152.0Z" fill="url(#patR)"/>
<g stroke="#333" stroke-width="1" fill="none">
<path d="M879,84 V180 L975,259 L1172,191 V95 L975,163 V259"/>
<path d="M879,84 L975,163" opacity="0.85"/>
</g>
<path d="M879,84 l-3.3,-1.4 M879,116 l-3.3,-1.4 M879,148 l-3.3,-1.4 M879,180 l-3.3,-1.4 M879.0,180.0 l-3.8,1.3 M911.0,206.3 l-3.8,1.3 M943.0,232.7 l-3.8,1.3 M975.0,259.0 l-3.8,1.3 M975.0,259.0 l3.1,2.5 M1024.2,242.0 l3.1,2.5 M1073.5,225.0 l3.1,2.5 M1122.8,208.0 l3.1,2.5 M1172.0,191.0 l3.1,2.5" stroke="#333" stroke-width="1" fill="none"/>
<text x="874.5" y="83.9" font-size="10.5" fill="#505050" text-anchor="end">60</text>
<text x="874.5" y="116.2" font-size="10.5" fill="#505050" text-anchor="end">70</text>
<text x="874.5" y="148.5" font-size="10.5" fill="#505050" text-anchor="end">80</text>
<text x="874.5" y="179.8" font-size="10.5" fill="#505050" text-anchor="end">90</text>
<text x="864.3" y="193.0" font-size="10.5" fill="#505050" text-anchor="middle">-40</text>
<text x="896.7" y="219.3" font-size="10.5" fill="#505050" text-anchor="middle">-20</text>
<text x="933" y="244.7" font-size="10.5" fill="#505050" text-anchor="middle">0</text>
<text x="962.5" y="272.0" font-size="10.5" fill="#505050" text-anchor="middle">20</text>
<text x="988" y="273.4" font-size="10.5" fill="#505050" text-anchor="middle">-20</text>
<text x="1032.4" y="255.2" font-size="10.5" fill="#505050" text-anchor="middle">0</text>
<text x="1085" y="239.0" font-size="10.5" fill="#505050" text-anchor="middle">20</text>
<text x="1134.3" y="221.8" font-size="10.5" fill="#505050" text-anchor="middle">40</text>
<text x="1183.6" y="205.0" font-size="10.5" fill="#505050" text-anchor="middle">60</text>
<text transform="translate(851,124) rotate(-90)" font-size="18.5" fill="#222" text-anchor="middle" xml:space="preserve">z  /  mm</text>
<text transform="translate(890.5,247.5) rotate(41)" font-size="18" fill="#222" text-anchor="middle" xml:space="preserve">y  /  mm</text>
<text transform="translate(1110,260) rotate(-20)" font-size="18" fill="#222" text-anchor="middle" xml:space="preserve">x  /  mm</text>
<text x="835" y="39" font-size="31" class="serif" fill="#111">(c)</text>
</g>
</svg></body></html>
